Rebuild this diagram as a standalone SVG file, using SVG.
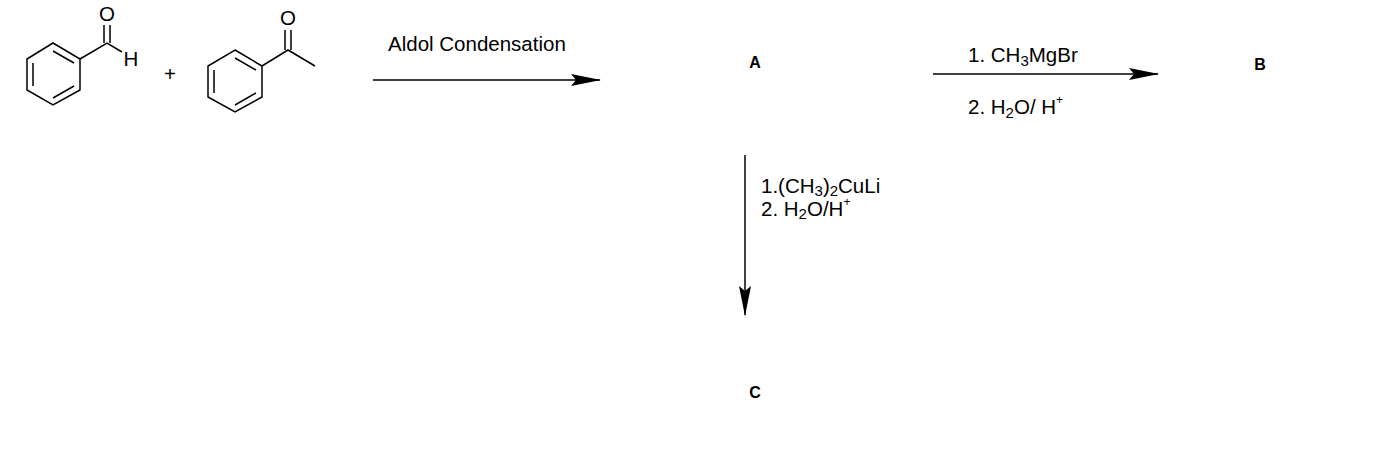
<svg xmlns="http://www.w3.org/2000/svg" width="1392" height="474" viewBox="0 0 1392 474">
<style>
.b{stroke:#000;stroke-width:1.5;fill:none}
text{font-family:"Liberation Sans",Arial,sans-serif;font-size:20.5px;fill:#000}
.L{font-weight:bold;font-size:16px;text-anchor:middle}
</style>
<defs><marker id="ah" markerWidth="30" markerHeight="12" refX="29" refY="6" orient="auto" markerUnits="userSpaceOnUse"><path d="M0,0 L30,6 L0,12 L5,6Z" fill="#000"/></marker></defs>
<rect width="1392" height="474" fill="#fff"/>
<g id="benzaldehyde">
<path class="b" d="M53,43 L80,59 L80,90 L53,105 L27,90 L27,59Z M53,51 L74,63 M74,86 L53,98 M33,86 L33,63 M80,59 L107,43 L122,52 M104,43 L104,25 M110,43 L110,25"/>
<text x="107" y="21" text-anchor="middle">O</text>
<text x="131" y="66" text-anchor="middle">H</text>
</g>
<g id="plus"><text x="170" y="81" text-anchor="middle" font-size="30">+</text></g>
<g id="acetophenone">
<path class="b" d="M235,50 L262,66 L262,97 L235,112 L208,97 L208,66Z M235,58 L256,70 M256,93 L235,105 M214,93 L214,70 M262,66 L288,50 L315,66 M285,50 L285,30 M291,50 L291,30"/>
<text x="288" y="25" text-anchor="middle">O</text>
</g>
<g id="A"><text class="L" x="755" y="68">A</text></g>
<g id="B"><text class="L" x="1260" y="70">B</text></g>
<g id="C"><text class="L" x="755" y="398">C</text></g>
<g id="connectors">
<line class="b" x1="373" y1="80" x2="600" y2="80" marker-end="url(#ah)"/>
<line class="b" x1="933" y1="74" x2="1158" y2="74" marker-end="url(#ah)"/>
<line class="b" x1="745" y1="155" x2="745" y2="315" marker-end="url(#ah)"/>
</g>
<g id="labels">
<text x="388" y="51">Aldol Condensation</text>
<text x="968" y="62">1. CH<tspan font-size="15" dy="4">3</tspan><tspan dy="-4">MgBr</tspan></text>
<text x="968" y="114">2. H<tspan font-size="15" dy="4">2</tspan><tspan dy="-4">O/ H</tspan><tspan font-size="12" dy="-10">+</tspan></text>
<text x="761" y="193">1.(CH<tspan font-size="15" dy="3">3</tspan><tspan dy="-3">)</tspan><tspan font-size="15" dy="3">2</tspan><tspan dy="-3">CuLi</tspan></text>
<text x="761" y="216">2. H<tspan font-size="15" dy="3">2</tspan><tspan dy="-3">O/H</tspan><tspan font-size="12" dy="-10">+</tspan></text>
</g>
</svg>
